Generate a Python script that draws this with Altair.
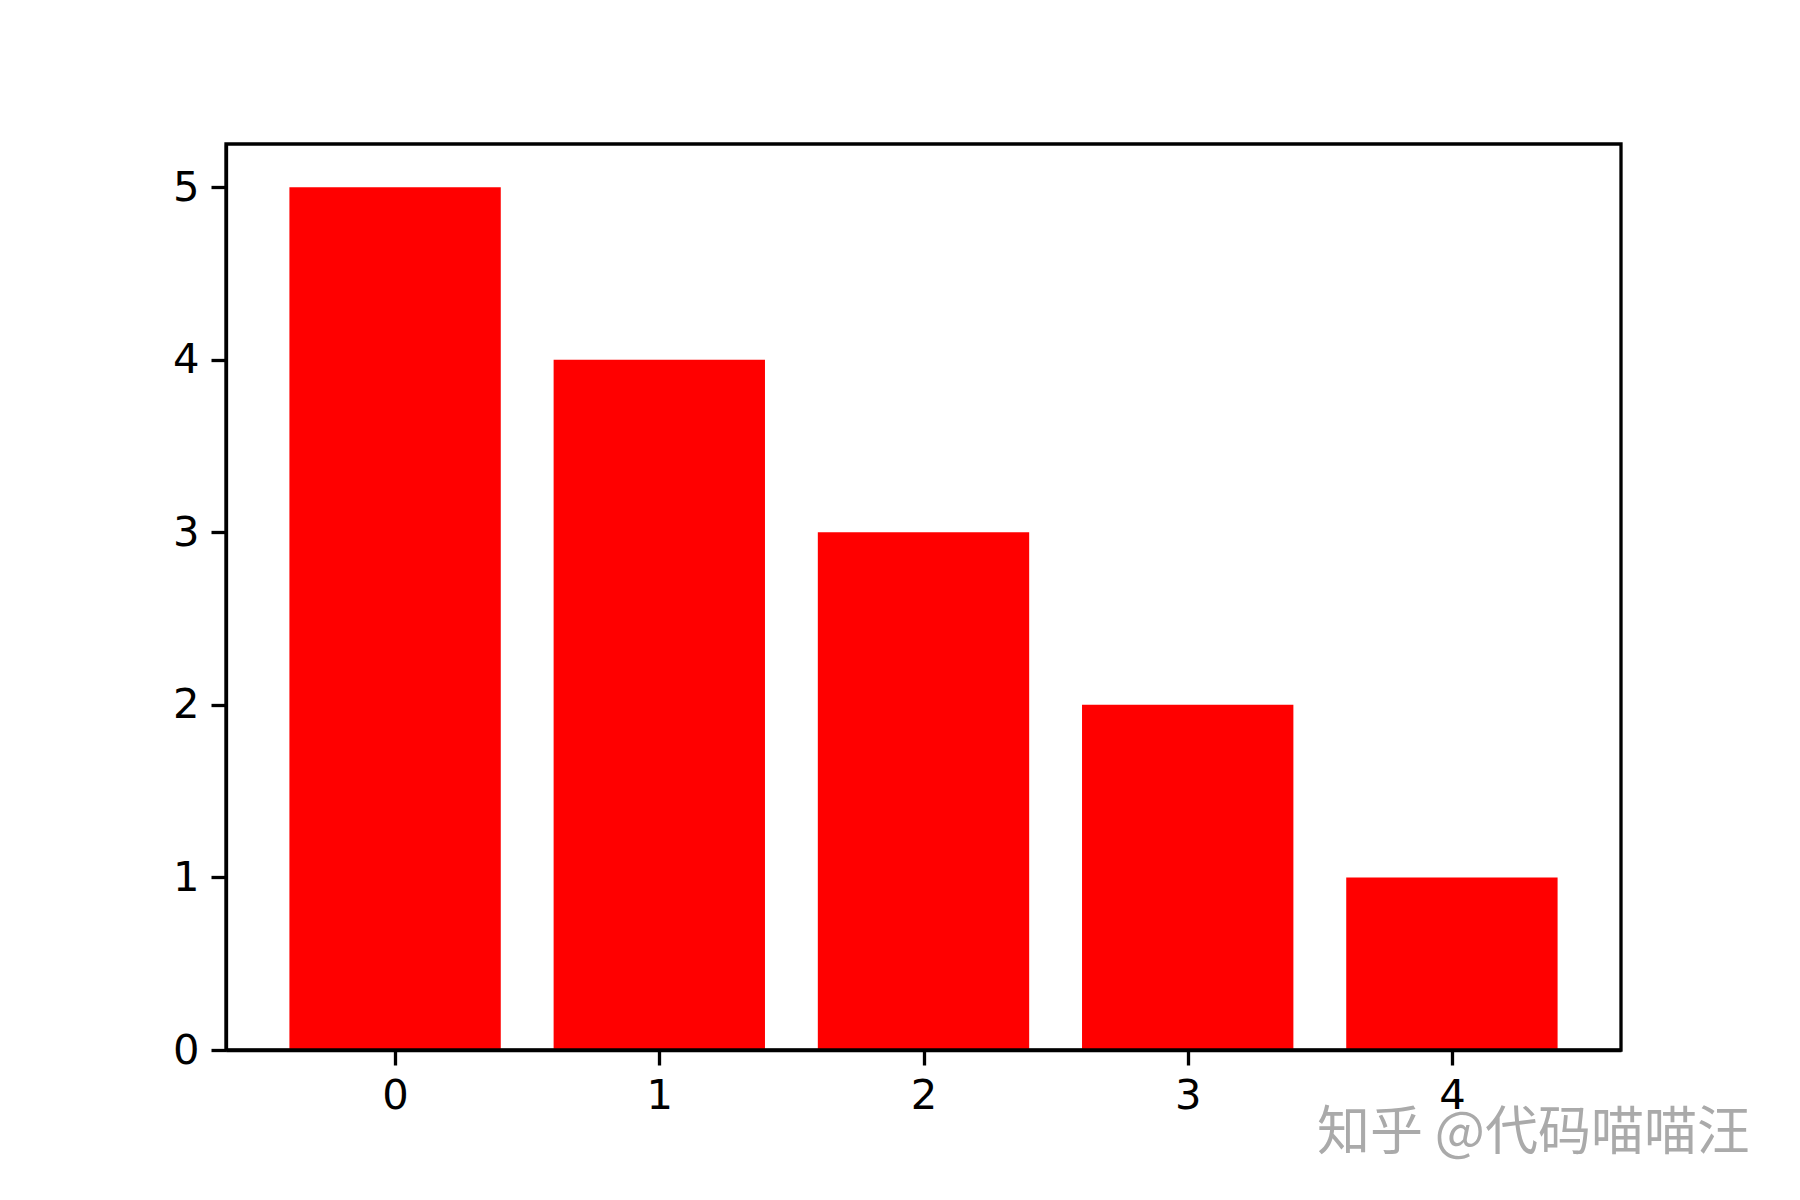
import altair as alt
import pandas as pd

categories = [0, 1, 2, 3, 4]
values = [5, 4, 3, 2, 1]
y_ticks = [0, 1, 2, 3, 4, 5]
watermark = "知乎 @代码喵喵汪"

df = pd.DataFrame({"cat": categories, "val": values})

FONT = "DejaVu Sans"
FS = 41.7
LW = 3.3
W, H = 1395, 906

bars = alt.Chart(df).transform_calculate(
    x0="datum.cat - 0.4", x1="datum.cat + 0.4"
).mark_bar(color="#ff0000").encode(
    x=alt.X("x0:Q", scale=alt.Scale(domain=[-0.64, 4.64], nice=False, zero=False),
            axis=alt.Axis(values=categories, format="d", title=None, grid=False,
                          tickSize=15, tickWidth=LW, tickColor="black",
                          domainColor="black", domainWidth=LW,
                          labelFont=FONT, labelFontSize=FS, labelColor="black",
                          labelPadding=10, labelFlush=False)),
    x2="x1:Q",
    y=alt.Y("val:Q", scale=alt.Scale(domain=[0, 5.25], nice=False),
            axis=alt.Axis(values=y_ticks, format="d", title=None, grid=False,
                          tickSize=15, tickWidth=LW, tickColor="black",
                          domainColor="black", domainWidth=LW,
                          labelFont=FONT, labelFontSize=FS, labelColor="black",
                          labelPadding=12, labelFlush=False)),
    y2=alt.datum(0),
)

frame = alt.Chart(pd.DataFrame({"a": [0]})).mark_rect(
    fill=None, stroke="black", strokeWidth=LW
).encode(x=alt.value(0), x2=alt.value(W), y=alt.value(0), y2=alt.value(H))

wm = alt.Chart(pd.DataFrame({"t": [watermark]})).mark_text(
    font="Noto Sans CJK SC", fontSize=53, color="#aaaaaa", align="left", baseline="alphabetic"
).encode(x=alt.value(1091), y=alt.value(1006), text="t:N")

chart = alt.layer(bars, frame, wm).properties(
    width=W, height=H,
    autosize=alt.AutoSizeParams(type="none"),
    padding={"left": 218, "top": 136, "right": 171, "bottom": 142},
).configure_view(stroke=None).configure(background="white")

chart.save("out.html", embed_options={"renderer": "svg", "actions": False})
